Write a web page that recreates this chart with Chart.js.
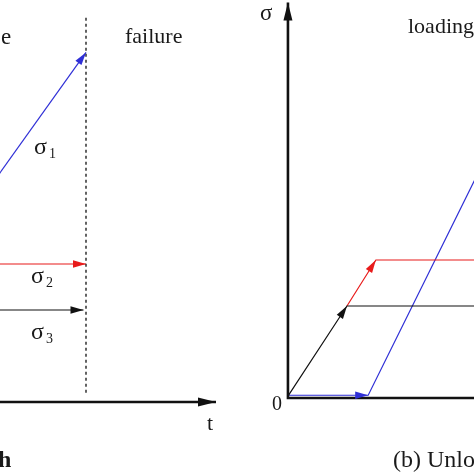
<!DOCTYPE html>
<html>
<head>
<meta charset="utf-8">
<title>Loading paths</title>
<script src="https://cdn.jsdelivr.net/npm/chart.js@4.4.1/dist/chart.umd.min.js"></script>
<style>
    html, body { margin: 0; padding: 0; background: #fff; }
    #wrap { width: 474px; height: 474px; }
</style>
</head>
<body>
<div id="wrap"><canvas id="stress_chart" width="474" height="474"></canvas></div>
<script>
// (a) constant loads up to failure: t in units of failure time, sigma in load units
const failureT = [1, 1]
const failureS = [0.2, 8.4]
const sigma1T = [0, 1]
const sigma1S = [0, 7.6]
const sigma2T = [0.5, 1]
const sigma2S = [3, 3]
const sigma3T = [0.5, 0.99]
const sigma3S = [2, 2]
const axisAT = [0, 1.52]
const axisAS = [0, 0]

// (b) unloading paths, same sigma units
const blackT = [0, 1, 3.2]
const blackS = [0.04, 2, 2]
const redT = [1, 1.49, 3.2]
const redS = [2, 3, 3]
const blueT = [0, 1.36, 3.2]
const blueS = [0.06, 0.06, 4.83]
const axisBT = [0, 0, 3.2]
const axisBS = [8.6, 0, 0]

const app = {
    variables: {
        ctx: document.getElementById('stress_chart').getContext('2d'),
        chart: null,
        serif: '"Liberation Serif", "DejaVu Serif", serif'
    },
    points: function (ts, ss){
        return ts.map((t, i) => ({x: t, y: ss[i]}))
    },
    line: function (ts, ss, color, width, panel, extra){
        return Object.assign({
            data: app.points(ts, ss),
            showLine: true,
            borderColor: color,
            backgroundColor: color,
            borderWidth: width,
            pointRadius: 0,
            xAxisID: panel === 'a' ? 'xA' : 'xB',
            yAxisID: panel === 'a' ? 'yA' : 'yB'
        }, extra || {})
    },
    // arrow heads at chosen points, pointing along the segment that reaches them
    arrowPlugin: {
        id: 'arrows',
        afterDatasetsDraw: function (chart){
            const ctx = chart.ctx
            chart.data.datasets.forEach((ds, i) => {
                if(!ds.arrowAt) return
                const pts = chart.getDatasetMeta(i).data
                ds.arrowAt.forEach(j => {
                    const b = pts[j]
                    const a = j === 0 ? pts[1] : pts[j - 1]
                    if(!a || !b) return
                    const ang = Math.atan2(b.y - a.y, b.x - a.x)
                    const len = ds.arrowLen || 13, half = ds.arrowHalf || 3.7
                    ctx.save()
                    ctx.translate(b.x, b.y)
                    ctx.rotate(ang)
                    ctx.beginPath()
                    ctx.moveTo(0, 0)
                    ctx.lineTo(-len, -half)
                    ctx.lineTo(-len, half)
                    ctx.closePath()
                    ctx.fillStyle = ds.borderColor
                    ctx.fill()
                    ctx.restore()
                })
            })
        }
    },
    labelPlugin: {
        id: 'labels',
        afterDraw: function (chart){
            const ctx = chart.ctx
            const f = app.variables.serif
            const texts = [
                ['e', 1, 44, '23px ' + f],
                ['failure', 125, 43, '22px ' + f],
                ['t', 207, 430, '22px ' + f],
                ['h', -2, 467, 'bold 24px ' + f],
                ['σ', 260, 20, '23px ' + f],
                ['loading', 408, 33, '22px ' + f],
                ['0', 272, 410, '20px ' + f],
                ['(b) Unloading', 393, 467, '24px ' + f]
            ]
            // sigma with subscript: [index, x, baseline]
            const sigmas = [['1', 34, 154], ['2', 31, 283], ['3', 31, 339]]
            ctx.save()
            ctx.fillStyle = '#1a1a1a'
            ctx.textAlign = 'left'
            ctx.textBaseline = 'alphabetic'
            texts.forEach(t => {
                ctx.font = t[3]
                ctx.fillText(t[0], t[1], t[2])
            })
            sigmas.forEach(s => {
                ctx.font = '24px ' + f
                ctx.fillText('σ', s[1], s[2])
                const w = ctx.measureText('σ').width
                ctx.font = '14px ' + f
                ctx.fillText(s[0], s[1] + w + 2, s[2] + 4)
            })
            ctx.restore()
        }
    },
    createChart: function (){
        const blue = '#2f2fd6', red = '#e81b1b', black = '#111111'
        app.variables.chart = new Chart(app.variables.ctx, {
            type: 'scatter',
            data: {
                datasets: [
                    app.line(failureT, failureS, '#222', 1.4, 'a', {borderDash: [3, 3]}),
                    app.line(axisAT, axisAS, black, 2.6, 'a', {arrowAt: [1], arrowLen: 18, arrowHalf: 4.5}),
                    app.line(sigma1T, sigma1S, blue, 1.2, 'a', {arrowAt: [1]}),
                    app.line(sigma2T, sigma2S, red, 1.2, 'a', {arrowAt: [1]}),
                    app.line(sigma3T, sigma3S, black, 1.2, 'a', {arrowAt: [1]}),
                    app.line(axisBT, axisBS, black, 2.6, 'b', {arrowAt: [0], arrowLen: 18, arrowHalf: 4.5}),
                    app.line(blackT, blackS, black, 1.2, 'b', {arrowAt: [1]}),
                    app.line(redT, redS, red, 1.2, 'b', {arrowAt: [1]}),
                    app.line(blueT, blueS, blue, 1.2, 'b', {arrowAt: [1]})
                ]
            },
            options: {
                responsive: false,
                animation: false,
                layout: {padding: 0},
                plugins: {legend: {display: false}, tooltip: {enabled: false}},
                scales: {
                    xA: {type: 'linear', axis: 'x', display: false, min: 0.656, max: 2.552},
                    yA: {type: 'linear', axis: 'y', display: false, min: -1.565, max: 8.739},
                    xB: {type: 'linear', axis: 'x', display: false, min: -4.88, max: 3.153},
                    yB: {type: 'linear', axis: 'y', display: false, min: -1.652, max: 8.652}
                }
            },
            plugins: [app.arrowPlugin, app.labelPlugin]
        })
    },
    run: function (){
        app.createChart()
    }
}
app.run()
</script>
</body>
</html>
